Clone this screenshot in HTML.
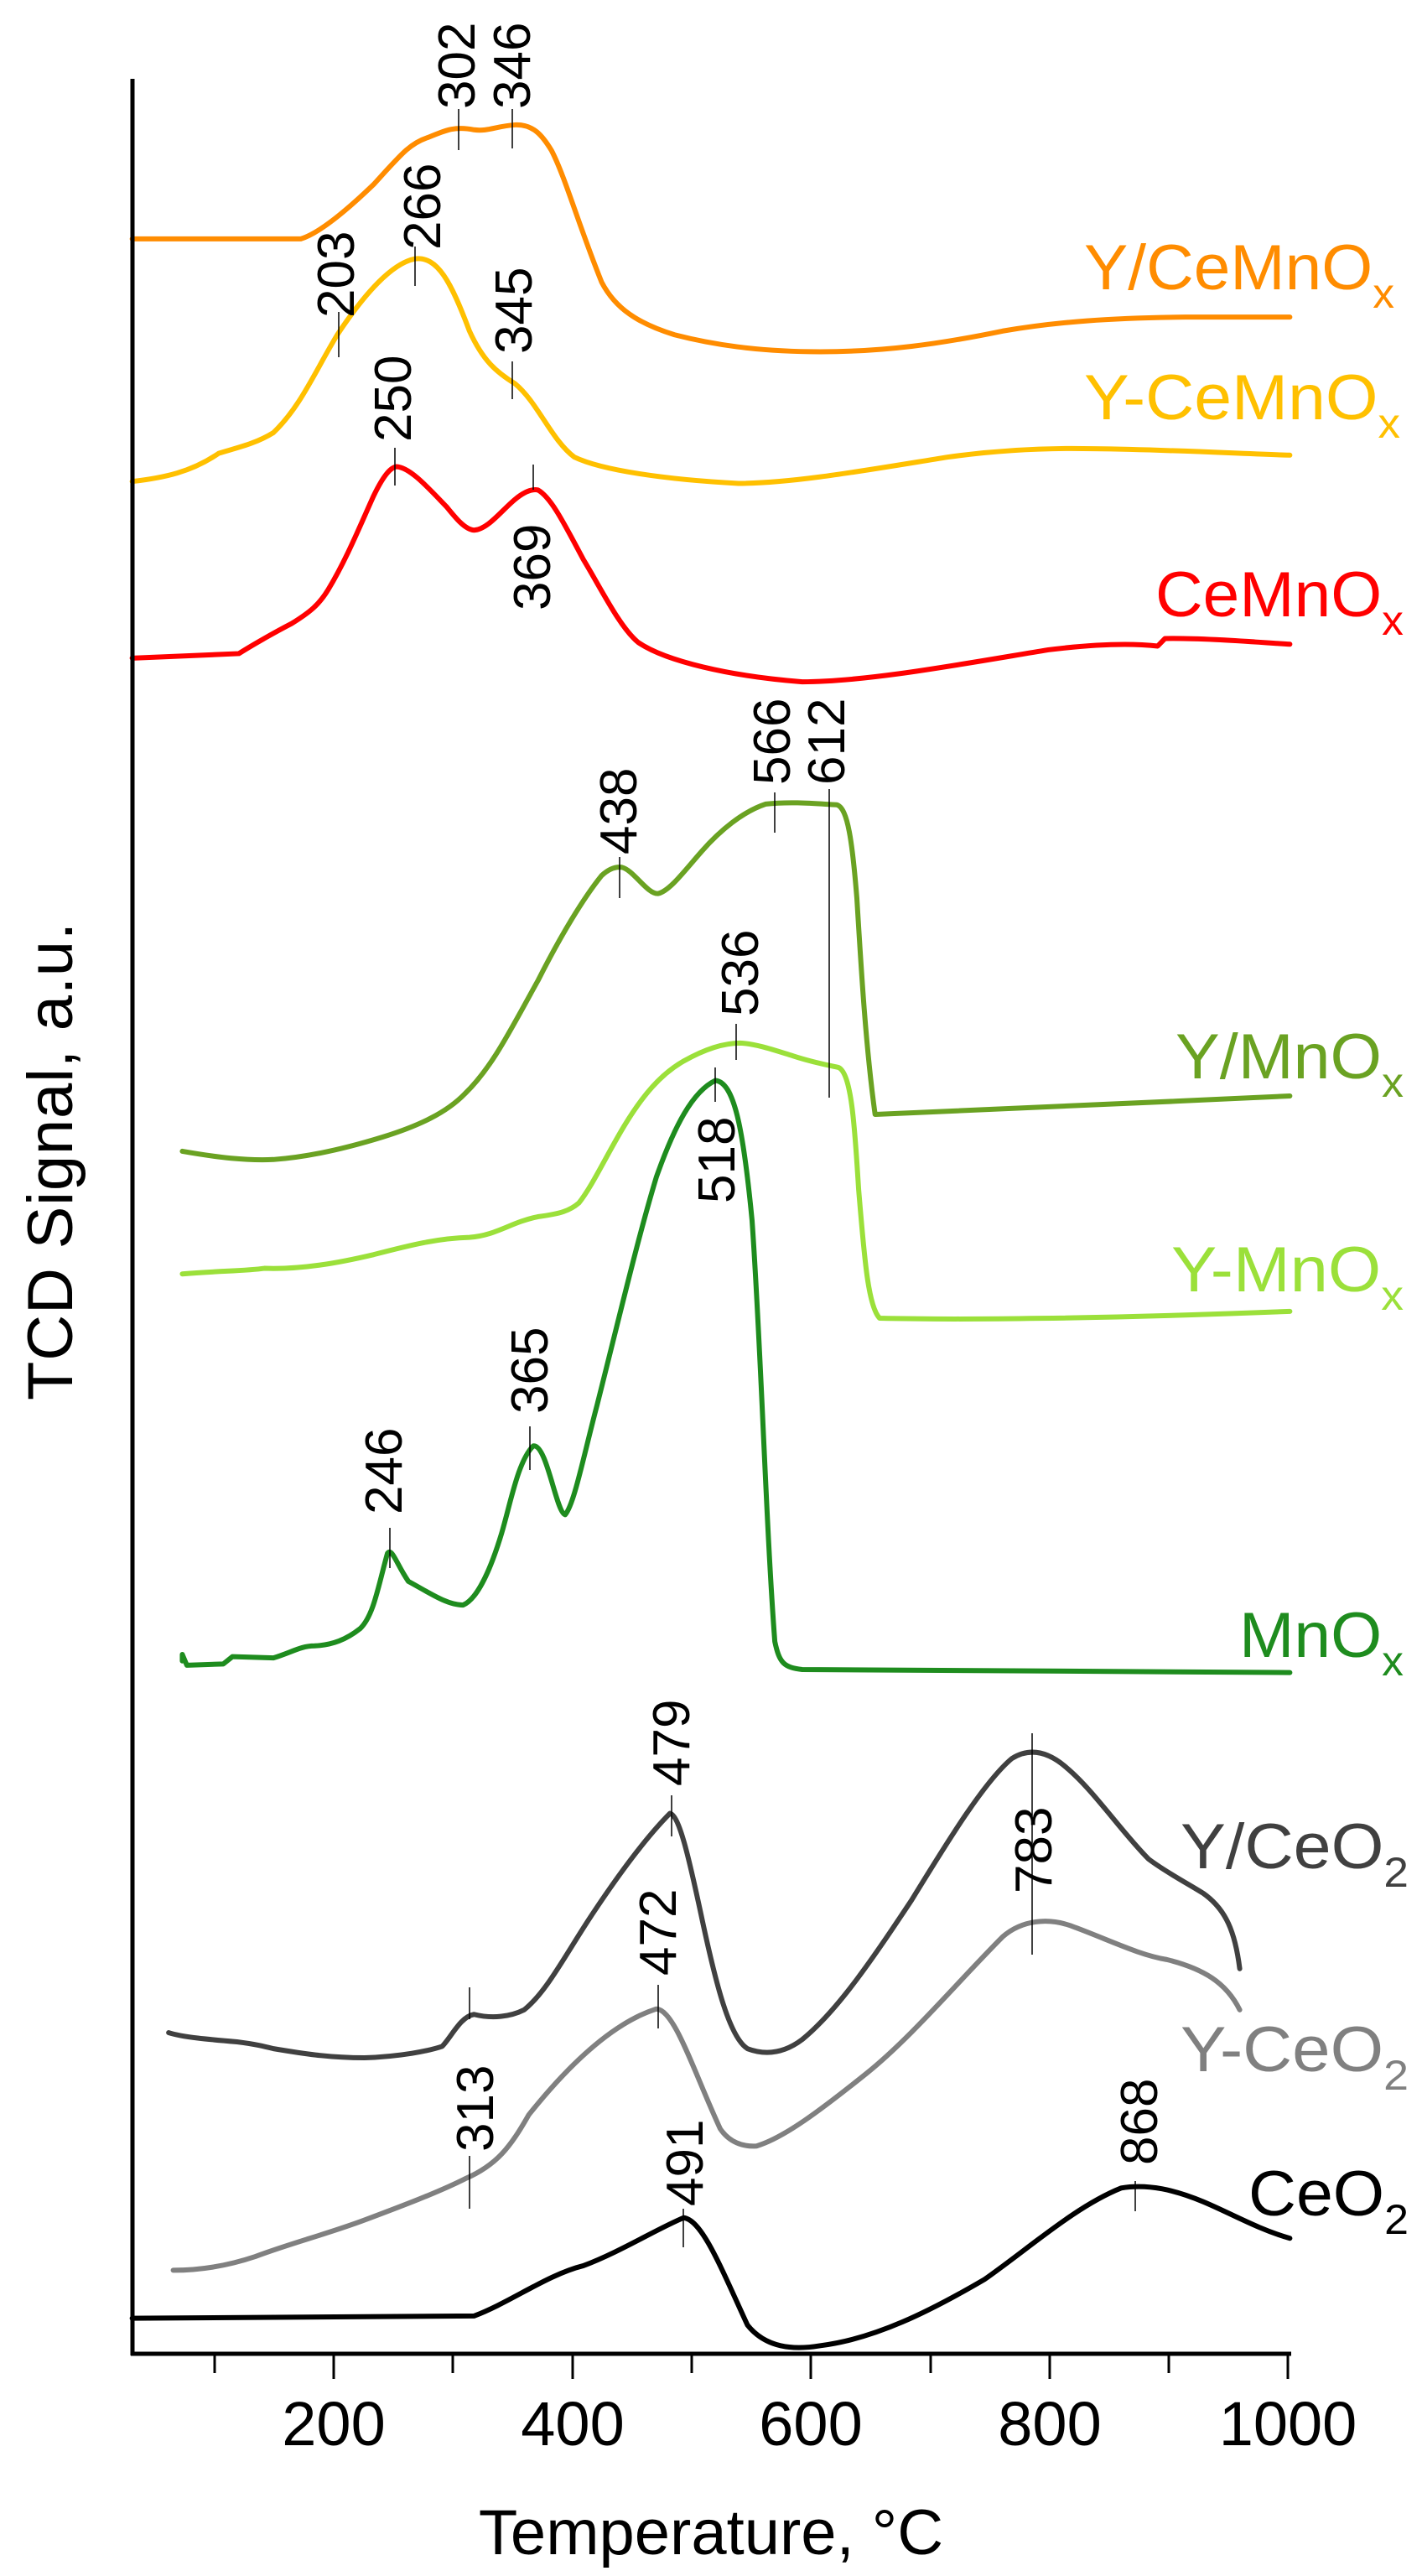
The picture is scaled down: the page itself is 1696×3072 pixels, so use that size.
<!DOCTYPE html>
<html><head><meta charset="utf-8"><style>html,body{margin:0;padding:0;background:#fff}svg{display:block}</style></head>
<body>
<svg width="1696" height="3072" viewBox="0 0 1696 3072" xmlns="http://www.w3.org/2000/svg" font-family="Liberation Sans, Arial, sans-serif">
<rect width="1696" height="3072" fill="#fff"/>
<g fill="none" stroke-linejoin="round" stroke-linecap="round">
<g transform="scale(1.0872,0.4486)">
<path vector-effect="non-scaling-stroke" stroke="#FF8C00" stroke-width="6" d="M145,635 L330,635 C350,620 380,560 410,490 C440,410 450,380 470,365 C490,345 500,335 520,345 C535,350 545,335 565,332 C585,330 595,360 605,400 C620,470 635,600 660,750 C675,820 700,860 740,890 C780,915 830,935 900,935 C970,935 1030,915 1100,880 C1160,855 1220,845 1300,843 L1415,843"/>
<path vector-effect="non-scaling-stroke" stroke="#FFC000" stroke-width="6" d="M145,1280 C180,1270 210,1255 240,1205 C260,1190 280,1180 300,1150 C330,1080 345,990 370,890 C400,780 430,700 455,688 C480,680 495,750 515,880 C530,960 545,990 565,1020 C590,1070 605,1170 630,1215 C660,1250 730,1275 810,1285 C870,1285 950,1250 1040,1215 C1100,1195 1150,1190 1200,1193 C1280,1195 1350,1205 1415,1210"/>
</g>
<g transform="translate(0,600) scale(1.0872,0.4486)">
<path vector-effect="non-scaling-stroke" stroke="#FF0000" stroke-width="6" d="M145,412 L262,400 C275,380 300,345 320,320 C340,290 350,270 360,230 C380,150 395,60 410,-20 C420,-70 428,-95 435,-97 C450,-95 470,-40 490,10 C500,40 510,70 520,72 C535,70 550,20 565,-10 C575,-30 583,-38 590,-35 C605,-15 620,60 640,150 C660,230 680,330 700,370 C730,420 800,460 880,475 C950,475 1050,430 1150,390 C1200,375 1240,372 1270,380 L1278,360 C1320,358 1380,370 1415,375"/>
<path vector-effect="non-scaling-stroke" stroke="#6AA222" stroke-width="6" d="M200,1723 C240,1740 270,1748 300,1745 C340,1738 380,1715 420,1685 C460,1655 490,1620 510,1570 C540,1500 560,1400 590,1270 C615,1150 640,1050 660,990 C668,972 675,966 682,968 C695,975 710,1040 722,1038 C735,1030 750,980 770,925 C790,870 815,820 840,800 C870,792 900,800 918,802 C930,810 935,900 940,1050 C945,1250 950,1450 960,1625 C1050,1615 1250,1595 1415,1576"/>
</g>
<g transform="translate(0,1250) scale(1.0872,0.5128)">
<path vector-effect="non-scaling-stroke" stroke="#9BE03A" stroke-width="6" d="M200,525 C240,518 270,518 290,512 C330,515 370,500 410,480 C450,458 480,442 515,440 C545,435 560,405 590,392 C615,385 625,378 635,360 C650,320 665,250 685,180 C705,110 725,60 750,30 C775,0 795,-12 812,-12 C830,-10 850,5 870,18 C890,32 905,38 920,45 C935,60 938,200 942,330 C948,480 952,600 965,628 C1050,632 1200,630 1415,612"/>
<path vector-effect="non-scaling-stroke" stroke="#1E8C1E" stroke-width="6" d="M200,1425 L200,1410 L205,1435 L245,1432 L255,1415 L300,1418 C320,1405 330,1390 345,1390 C365,1388 380,1375 395,1350 C410,1320 415,1250 425,1175 C430,1160 435,1200 448,1240 C470,1265 490,1295 508,1295 C525,1280 540,1200 550,1130 C560,1060 568,960 585,925 C600,920 610,1080 620,1085 C630,1060 640,950 655,830 C680,620 700,440 720,300 C740,180 760,100 785,75 C805,80 815,180 825,400 C835,700 840,1100 850,1380 C855,1430 860,1440 880,1445 L1415,1452"/>
</g>
<g transform="translate(0,1950) scale(1.0872,0.5449)">
<path vector-effect="non-scaling-stroke" stroke="#404040" stroke-width="6" d="M185,870 C200,880 230,885 260,890 C280,895 290,900 300,905 C330,915 360,925 400,925 C440,922 470,910 485,900 C495,880 505,835 520,830 C540,840 560,835 575,820 C600,780 620,700 650,610 C680,520 710,440 735,390 C745,395 755,480 770,620 C785,760 800,880 820,905 C840,920 860,915 880,885 C920,820 960,700 1000,580 C1040,450 1080,320 1110,270 C1130,245 1150,255 1170,290 C1200,340 1230,430 1260,490 C1280,520 1300,540 1320,565 C1345,600 1355,650 1360,730"/>
<path vector-effect="non-scaling-stroke" stroke="#808080" stroke-width="6" d="M190,1390 C220,1390 250,1380 280,1360 C320,1330 360,1310 400,1280 C440,1250 480,1220 510,1190 C545,1160 560,1120 580,1050 C620,950 670,850 720,818 C740,820 760,950 790,1080 C800,1110 815,1120 830,1118 C860,1100 900,1040 950,960 C1000,880 1050,760 1100,660 C1120,625 1150,615 1180,640 C1220,670 1250,700 1280,710 C1320,730 1345,760 1360,820"/>
<path vector-effect="non-scaling-stroke" stroke="#000" stroke-width="6" d="M145,1495 L520,1490 C560,1460 600,1400 640,1380 C680,1350 720,1300 750,1275 C770,1280 790,1380 820,1510 C840,1560 870,1565 900,1555 C960,1540 1020,1480 1080,1410 C1130,1340 1180,1250 1230,1210 C1260,1200 1290,1215 1320,1240 C1350,1265 1380,1300 1415,1320"/>
</g>
</g>
<g stroke="#000" stroke-width="1.5">
<line x1="547" y1="130" x2="547" y2="179"/>
<line x1="611" y1="130" x2="611" y2="177"/>
<line x1="495" y1="294" x2="495" y2="341"/>
<line x1="404" y1="372" x2="404" y2="426"/>
<line x1="611" y1="431" x2="611" y2="476"/>
<line x1="471" y1="534" x2="471" y2="579"/>
<line x1="636" y1="554" x2="636" y2="584"/>
<line x1="924" y1="945" x2="924" y2="993"/>
<line x1="989" y1="941" x2="989" y2="1309"/>
<line x1="739" y1="1022" x2="739" y2="1071"/>
<line x1="878" y1="1221" x2="878" y2="1264"/>
<line x1="853" y1="1273" x2="853" y2="1314"/>
<line x1="465" y1="1822" x2="465" y2="1870"/>
<line x1="632" y1="1701" x2="632" y2="1753"/>
<line x1="801" y1="2141" x2="801" y2="2190"/>
<line x1="1231" y1="2067" x2="1231" y2="2331"/>
<line x1="785" y1="2367" x2="785" y2="2419"/>
<line x1="560" y1="2370" x2="560" y2="2408"/>
<line x1="560" y1="2571" x2="560" y2="2634"/>
<line x1="815" y1="2634" x2="815" y2="2680"/>
<line x1="1354" y1="2601" x2="1354" y2="2637"/>
</g>
<g font-size="62" fill="#000">
<text transform="translate(566,130) rotate(-90)">302</text>
<text transform="translate(632,130) rotate(-90)">346</text>
<text transform="translate(525,298) rotate(-90)">266</text>
<text transform="translate(422,379) rotate(-90)">203</text>
<text transform="translate(634,422) rotate(-90)">345</text>
<text transform="translate(490,527) rotate(-90)">250</text>
<text transform="translate(656,728) rotate(-90)">369</text>
<text transform="translate(942,936) rotate(-90)">566</text>
<text transform="translate(1007,936) rotate(-90)">612</text>
<text transform="translate(759,1019) rotate(-90)">438</text>
<text transform="translate(904,1212) rotate(-90)">536</text>
<text transform="translate(876,1435) rotate(-90)">518</text>
<text transform="translate(653,1686) rotate(-90)">365</text>
<text transform="translate(479,1806) rotate(-90)">246</text>
<text transform="translate(822,2130) rotate(-90)">479</text>
<text transform="translate(1254,2258) rotate(-90)">783</text>
<text transform="translate(806,2356) rotate(-90)">472</text>
<text transform="translate(588,2566) rotate(-90)">313</text>
<text transform="translate(838,2631) rotate(-90)">491</text>
<text transform="translate(1380,2582) rotate(-90)">868</text>
</g>
<g font-size="76">
<text x="1293" y="345" fill="#FF8C00" textLength="370" lengthAdjust="spacingAndGlyphs">Y/CeMnO<tspan font-size="50" dy="22">x</tspan></text>
<text x="1293" y="500" fill="#FFC000" textLength="377" lengthAdjust="spacingAndGlyphs">Y-CeMnO<tspan font-size="50" dy="22">x</tspan></text>
<text x="1378" y="735" fill="#FF0000" textLength="296" lengthAdjust="spacingAndGlyphs">CeMnO<tspan font-size="50" dy="22">x</tspan></text>
<text x="1402" y="1286" fill="#6AA222" textLength="272" lengthAdjust="spacingAndGlyphs">Y/MnO<tspan font-size="50" dy="22">x</tspan></text>
<text x="1397" y="1540" fill="#9BE03A" textLength="277" lengthAdjust="spacingAndGlyphs">Y-MnO<tspan font-size="50" dy="22">x</tspan></text>
<text x="1478" y="1976" fill="#1E8C1E" textLength="196" lengthAdjust="spacingAndGlyphs">MnO<tspan font-size="50" dy="22">x</tspan></text>
<text x="1408" y="2228" fill="#404040" textLength="272" lengthAdjust="spacingAndGlyphs">Y/CeO<tspan font-size="50" dy="22">2</tspan></text>
<text x="1408" y="2470" fill="#808080" textLength="272" lengthAdjust="spacingAndGlyphs">Y-CeO<tspan font-size="50" dy="22">2</tspan></text>
<text x="1489" y="2642" fill="#000" textLength="191" lengthAdjust="spacingAndGlyphs">CeO<tspan font-size="50" dy="22">2</tspan></text>
</g>
<line x1="158" y1="94" x2="158" y2="2809" stroke="#000" stroke-width="5"/>
<line x1="156" y1="2807" x2="1540" y2="2807" stroke="#000" stroke-width="5"/>
<g stroke="#000" stroke-width="3">
<line x1="256" y1="2807" x2="256" y2="2830"/>
<line x1="398" y1="2807" x2="398" y2="2837"/>
<line x1="540" y1="2807" x2="540" y2="2830"/>
<line x1="683" y1="2807" x2="683" y2="2837"/>
<line x1="825" y1="2807" x2="825" y2="2830"/>
<line x1="967" y1="2807" x2="967" y2="2837"/>
<line x1="1110" y1="2807" x2="1110" y2="2830"/>
<line x1="1252" y1="2807" x2="1252" y2="2837"/>
<line x1="1394" y1="2807" x2="1394" y2="2830"/>
<line x1="1536" y1="2807" x2="1536" y2="2837"/>
</g>
<g font-size="74" text-anchor="middle" fill="#000">
<text x="398" y="2916">200</text>
<text x="683" y="2916">400</text>
<text x="967" y="2916">600</text>
<text x="1252" y="2916">800</text>
<text x="1536" y="2916">1000</text>
</g>
<text x="848" y="3046" font-size="76" text-anchor="middle">Temperature, °C</text>
<text transform="translate(86,1385) rotate(-90)" font-size="76" text-anchor="middle" textLength="570">TCD Signal, a.u.</text>
</svg>
</body></html>
